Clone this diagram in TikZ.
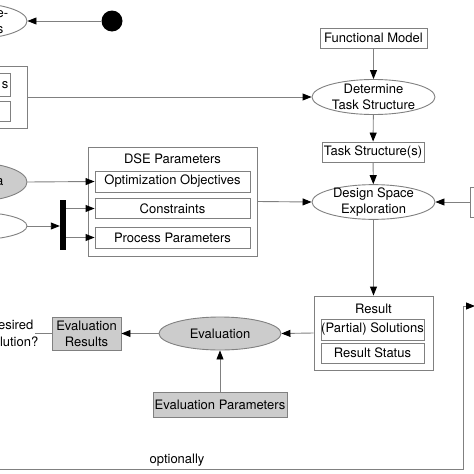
\documentclass[tikz,border=0pt]{standalone}
\usepackage{fontspec}
\setmainfont{TeX Gyre Heros}
\usetikzlibrary{arrows.meta,positioning,shapes.geometric}
\definecolor{linegray}{gray}{0.5}
\definecolor{fillgray}{gray}{0.8}

\begin{document}
\begin{tikzpicture}[x=1pt, y=-1pt, >={Triangle[length=9pt,width=7pt,color=black]},
  every node/.style={font=\fontsize{13}{16}\selectfont, inner sep=0pt, align=center},
  box/.style={draw=linegray, line width=0.9pt, fill=white},
  greybox/.style={box, fill=fillgray},
  oval/.style={ellipse, draw=linegray, line width=0.9pt, fill=white, inner ysep=-2pt},
  greyoval/.style={oval, fill=fillgray},
  conn/.style={draw=linegray, line width=0.9pt}]
\useasboundingbox (0,0) rectangle (474,474);
\clip (0,0) rectangle (474,474);

% left column, cut by the border
\node[oval, minimum width=114, minimum height=36] (topoval) at (-30,21) {};
\node[anchor=east] (topovaltxt) at (8.5,14) {e-};
\node[anchor=east] (topovaltxtb) at (3.5,30) {s};
\node[circle, fill=black, minimum size=21] (start) at (112,21) {};
\node[box, minimum width=110, minimum height=62] (leftbox) at (-28,97) {};
\node[box, minimum width=90, minimum height=23] (leftitem) at (-35,84.5) {};
\node[anchor=east] (leftitemtxt) at (8.5,85) {s};
\node[box, minimum width=90, minimum height=20] (leftitemb) at (-35,111) {};
\node[greyoval, minimum width=110, minimum height=39] (goaloval) at (-28,182) {};
\node[anchor=east] (goalovaltxt) at (3.5,182) {a};
\node[oval, minimum width=110, minimum height=28] (limitoval) at (-28,226) {};
\node[fill=black, minimum width=6, minimum height=50] (bar) at (63,225) {};

% DSE parameters
\node[box, minimum width=169, minimum height=109] (dseparams) at (172.5,201.5) {};
\node (dseparamstitle) at (172.5,159) {DSE Parameters};
\node[box, minimum width=155, minimum height=21] (optobj) at (172.5,181.5) {Optimization Objectives};
\node[box, minimum width=155, minimum height=20] (constraints) at (172.5,208.5) {Constraints};
\node[box, minimum width=155, minimum height=21] (procparams) at (172.5,237.5) {Process Parameters};

% right column
\node[box, minimum width=107, minimum height=20] (funcmodel) at (373.5,38) {Functional Model};
\node[oval, minimum width=123, minimum height=35] (determine) at (373.5,97) {Determine\\Task Structure};
\node[box, minimum width=102, minimum height=20] (taskstruct) at (373,152) {Task Structure(s)};
\node[oval, minimum width=123, minimum height=34] (dse) at (373.5,202) {Design Space\\Exploration};
\node[box, minimum width=40, minimum height=30] (rightbox) at (490,202) {};
\node[box, minimum width=119, minimum height=74] (result) at (373.5,333) {};
\node (resulttitle) at (373.5,308.5) {Result};
\node[box, minimum width=103, minimum height=21] (partial) at (372.5,329.5) {(Partial) Solutions};
\node[box, minimum width=103, minimum height=20] (status) at (372.5,353) {Result Status};

% evaluation
\node[greyoval, minimum width=122, minimum height=33] (evaluation) at (220,333.5) {Evaluation};
\node[greybox, minimum width=69, minimum height=33] (evalresults) at (86.5,333.5) {Evaluation\\Results};
\node[greybox, minimum width=134, minimum height=25] (evalparams) at (220,404.5) {Evaluation Parameters};
\node[anchor=east] (desiredtxt) at (33.5,325) {esired};
\node[anchor=east] (desiredtxtb) at (38.5,342) {lution?};
\coordinate (desiredend) at (35,333.5);
\node (optional) at (177,460) {optionally};
\coordinate (loopstart) at (-5,469);
\coordinate (loopturn) at (463,306);
\coordinate (loopend) at (475,306);

\draw[conn,->] (start) -- (topoval.east);
\draw[conn,->] (leftbox.east) -- (determine.west);
\draw[conn,->] (goaloval.east) -- (optobj.west);
\draw[conn,->] (limitoval.east) -- (limitoval.east -| bar.west);
\draw[conn,->] (bar.east |- constraints.west) -- (constraints.west);
\draw[conn,->] (bar.east |- procparams.west) -- (procparams.west);
\draw[conn,->] (dseparams.east) -- (dse.west);
\draw[conn,->] (funcmodel) -- (determine);
\draw[conn,->] (determine) -- (taskstruct);
\draw[conn,->] (taskstruct) -- (dse);
\draw[conn,->] (rightbox.west) -- (dse.east);
\draw[conn,->] (dse) -- (result);
\draw[conn,->] (result.west) -- (evaluation.east);
\draw[conn,->] (evaluation) -- (evalresults);
\draw[conn,->] (evalparams) -- (evaluation);
\draw[conn] (evalresults.west) -- (desiredend);
\draw[conn,->] (loopstart) -| (loopturn) -- (loopend);
\end{tikzpicture}
\end{document}
